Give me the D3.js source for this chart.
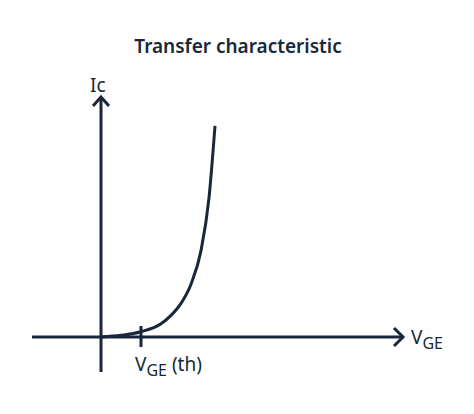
<!DOCTYPE html><html><head><meta charset="utf-8"><script src="https://cdn.jsdelivr.net/npm/d3@7"></script>
<style>body{margin:0;background:#fff}</style></head><body><svg id="c" width="474" height="414"></svg>
<script>
const curveX=[0,0.5,1,1.5,1.75,2,2.25,2.5,2.7,2.85];
const curveY=[0,0.7,2.2,5.5,9,14,22,36,58,88];
const title="Transfer characteristic";
const col="#18273a";
const F="Noto Sans";
const svg=d3.select("#c");
const x=d3.scaleLinear().domain([0,1]).range([101,141]);
const y=d3.scaleLinear().domain([0,100]).range([337,97]);
svg.append("text").attr("x",238).attr("y",53).attr("text-anchor","middle").attr("font-family",F).attr("font-weight","600").attr("font-size",19).attr("fill",col).text(title);
const g=svg.append("g").attr("stroke",col).attr("stroke-width",3).attr("fill","none");
g.append("line").attr("x1",32).attr("x2",x(7.55)).attr("y1",y(0)).attr("y2",y(0));
g.append("path").attr("d",`M${x(7.55)-9},${y(0)-9}L${x(7.55)},${y(0)}L${x(7.55)-9},${y(0)+9}`);
g.append("line").attr("x1",x(0)).attr("x2",x(0)).attr("y1",372).attr("y2",y(100));
g.append("path").attr("d",`M${x(0)-8},${y(100)+9}L${x(0)},${y(100)}L${x(0)+8},${y(100)+9}`);
g.append("line").attr("x1",x(1)).attr("x2",x(1)).attr("y1",y(0)-11).attr("y2",y(0)+10);
g.append("path").attr("d",d3.line().x((d,i)=>x(curveX[i])).y(d=>y(d)).curve(d3.curveMonotoneX)(curveY));
function sub(xp,yp,main,s,tail){const t=svg.append("text").attr("x",xp).attr("y",yp).attr("font-family",F).attr("font-size",19).attr("fill",col);
t.append("tspan").text(main);t.append("tspan").attr("font-size",16).attr("dy",5).text(s);if(tail)t.append("tspan").attr("dy",-5).text(tail);}
svg.append("text").attr("x",90).attr("y",92).attr("font-family",F).attr("font-size",19).attr("fill",col).text("Ic");
sub(411,344,"V","GE");
sub(135,371,"V","GE"," (th)");
</script></body></html>
